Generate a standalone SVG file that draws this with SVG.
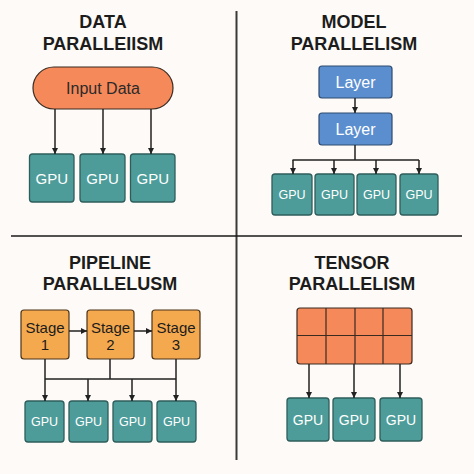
<svg xmlns="http://www.w3.org/2000/svg" width="474" height="474" viewBox="0 0 474 474">
<style>
.title{font-family:"Liberation Sans",Arial,sans-serif;font-weight:bold;font-size:18px;fill:#1c1c1c;text-anchor:middle}
.gpu rect{fill:#4D9C99;stroke:#2E5E5C;stroke-width:1.3}
.gpu text{font-family:"Liberation Sans",Arial,sans-serif;fill:#ffffff;text-anchor:middle;dominant-baseline:central}
.lbl{font-family:"Liberation Sans",Arial,sans-serif;text-anchor:middle;dominant-baseline:central}
.conn line,.conn path{stroke:#222;stroke-width:1.5;fill:none}
.arr{marker-end:url(#ah)}
</style>
<defs>
<marker id="ah" viewBox="0 0 10 10" refX="10" refY="5" markerWidth="6" markerHeight="6" markerUnits="userSpaceOnUse" orient="auto">
<path d="M0,0 L10,5 L0,10 Z" fill="#222"/>
</marker>
</defs>
<rect width="474" height="474" fill="#FDFAF7"/>
<g id="dividers">
<line x1="236.5" y1="11" x2="236.5" y2="460" stroke="#3a3a3a" stroke-width="2"/>
<line x1="11" y1="236" x2="462" y2="236" stroke="#1a1a1a" stroke-width="1.6"/>
</g>

<!-- Quadrant 1: Data parallelism -->
<g id="title-data">
<text class="title" x="103" y="28">DATA</text>
<text class="title" x="103" y="50">PARALLEIISM</text>
</g>
<g id="input-data">
<rect x="33" y="67" width="140" height="42" rx="21" fill="#F5895A" stroke="#3a2a20" stroke-width="1.2"/>
<text class="lbl" x="103" y="88" font-size="16" fill="#2a2a2a">Input Data</text>
</g>
<g id="q1-gpu1" class="gpu"><rect x="29.5" y="154" width="44.5" height="48" rx="3"/><text x="51.8" y="178" font-size="15">GPU</text></g>
<g id="q1-gpu2" class="gpu"><rect x="80" y="154" width="45" height="48" rx="3"/><text x="102.5" y="178" font-size="15">GPU</text></g>
<g id="q1-gpu3" class="gpu"><rect x="130.5" y="154" width="44.5" height="48" rx="3"/><text x="152.8" y="178" font-size="15">GPU</text></g>

<!-- Quadrant 2: Model parallelism -->
<g id="title-model">
<text class="title" x="354" y="28">MODEL</text>
<text class="title" x="354" y="50">PARALLELISM</text>
</g>
<g id="layer1">
<rect x="319" y="66" width="73" height="32" rx="3" fill="#5B8ECF" stroke="#2d4a70" stroke-width="1.2"/>
<text class="lbl" x="355.5" y="82" font-size="16" fill="#ffffff">Layer</text>
</g>
<g id="layer2">
<rect x="319" y="113" width="73" height="32" rx="3" fill="#5B8ECF" stroke="#2d4a70" stroke-width="1.2"/>
<text class="lbl" x="355.5" y="129" font-size="16" fill="#ffffff">Layer</text>
</g>
<g id="q2-gpu1" class="gpu"><rect x="272" y="174" width="40" height="41" rx="3"/><text x="292" y="194.5" font-size="12.5">GPU</text></g>
<g id="q2-gpu2" class="gpu"><rect x="315" y="174" width="39" height="41" rx="3"/><text x="334.5" y="194.5" font-size="12.5">GPU</text></g>
<g id="q2-gpu3" class="gpu"><rect x="357" y="174" width="39" height="41" rx="3"/><text x="376.5" y="194.5" font-size="12.5">GPU</text></g>
<g id="q2-gpu4" class="gpu"><rect x="400" y="174" width="38" height="41" rx="3"/><text x="419" y="194.5" font-size="12.5">GPU</text></g>

<!-- Quadrant 3: Pipeline parallelism -->
<g id="title-pipeline">
<text class="title" x="110" y="269">PIPELINE</text>
<text class="title" x="110" y="290">PARALLELUSM</text>
</g>
<g id="stage1">
<rect x="21" y="310" width="48" height="49" rx="3" fill="#F5A94F" stroke="#4a3318" stroke-width="1.2"/>
<text class="lbl" x="45" y="327" font-size="15" fill="#1c1c1c">Stage</text>
<text class="lbl" x="45" y="344" font-size="15" fill="#1c1c1c">1</text>
</g>
<g id="stage2">
<rect x="87" y="310" width="47" height="49" rx="3" fill="#F5A94F" stroke="#4a3318" stroke-width="1.2"/>
<text class="lbl" x="110.5" y="327" font-size="15" fill="#1c1c1c">Stage</text>
<text class="lbl" x="110.5" y="344" font-size="15" fill="#1c1c1c">2</text>
</g>
<g id="stage3">
<rect x="152" y="310" width="48" height="49" rx="3" fill="#F5A94F" stroke="#4a3318" stroke-width="1.2"/>
<text class="lbl" x="176" y="327" font-size="15" fill="#1c1c1c">Stage</text>
<text class="lbl" x="176" y="344" font-size="15" fill="#1c1c1c">3</text>
</g>
<g id="q3-gpu1" class="gpu"><rect x="25" y="401" width="39" height="41" rx="3"/><text x="44.5" y="421.5" font-size="12.5">GPU</text></g>
<g id="q3-gpu2" class="gpu"><rect x="69" y="401" width="39" height="41" rx="3"/><text x="88.5" y="421.5" font-size="12.5">GPU</text></g>
<g id="q3-gpu3" class="gpu"><rect x="113" y="401" width="39" height="41" rx="3"/><text x="132.5" y="421.5" font-size="12.5">GPU</text></g>
<g id="q3-gpu4" class="gpu"><rect x="157" y="401" width="39" height="41" rx="3"/><text x="176.5" y="421.5" font-size="12.5">GPU</text></g>

<!-- Quadrant 4: Tensor parallelism -->
<g id="title-tensor">
<text class="title" x="352" y="269">TENSOR</text>
<text class="title" x="352" y="290">PARALLELISM</text>
</g>
<g id="tensor-grid">
<rect x="297" y="308" width="115" height="56" rx="3" fill="#F5895A" stroke="#3a2a20" stroke-width="1.2"/>
<path d="M326,308 V364 M355,308 V364 M383,308 V364 M297,335.5 H412" stroke="#3a2a20" stroke-width="1.2" fill="none"/>
</g>
<g id="q4-gpu1" class="gpu"><rect x="287" y="398" width="42" height="43" rx="3"/><text x="308" y="419.5" font-size="14">GPU</text></g>
<g id="q4-gpu2" class="gpu"><rect x="333" y="398" width="42" height="43" rx="3"/><text x="354" y="419.5" font-size="14">GPU</text></g>
<g id="q4-gpu3" class="gpu"><rect x="380" y="398" width="42" height="43" rx="3"/><text x="401" y="419.5" font-size="14">GPU</text></g>

<g id="connectors" class="conn">
<!-- Q1 -->
<line class="arr" x1="55" y1="109" x2="55" y2="154"/>
<line class="arr" x1="103" y1="109" x2="103" y2="154"/>
<line class="arr" x1="151" y1="109" x2="151" y2="154"/>
<!-- Q2 -->
<line class="arr" x1="355" y1="98" x2="355" y2="113"/>
<path d="M355,145 V160 M292.5,160 H419"/>
<line class="arr" x1="293" y1="160" x2="293" y2="174"/>
<line class="arr" x1="334" y1="160" x2="334" y2="174"/>
<line class="arr" x1="376" y1="160" x2="376" y2="174"/>
<line class="arr" x1="419" y1="160" x2="419" y2="174"/>
<!-- Q3 -->
<line class="arr" x1="69" y1="331" x2="87" y2="331"/>
<line class="arr" x1="134" y1="331" x2="152" y2="331"/>
<path d="M110,359 V379 M45,379 H176"/>
<line class="arr" x1="45" y1="359" x2="45" y2="401"/>
<line class="arr" x1="88" y1="379" x2="88" y2="401"/>
<line class="arr" x1="132" y1="379" x2="132" y2="401"/>
<line class="arr" x1="176" y1="359" x2="176" y2="401"/>
<!-- Q4 -->
<line class="arr" x1="309" y1="364" x2="309" y2="398"/>
<line class="arr" x1="354" y1="364" x2="354" y2="398"/>
<line class="arr" x1="400" y1="364" x2="400" y2="398"/>
</g>
</svg>
